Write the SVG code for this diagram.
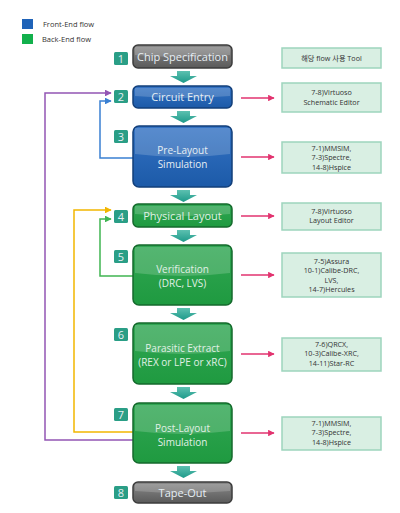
<svg xmlns="http://www.w3.org/2000/svg" width="400" height="513" viewBox="0 0 400 513">
<defs>
<style>
.nt{font-family:"Open Sans","Liberation Sans",sans-serif;font-size:11px;fill:#e6eef4;text-anchor:middle}
.bt{font-family:"Open Sans","Liberation Sans",sans-serif;font-size:11px;fill:#e0f0e6;text-anchor:middle}
.two{font-size:10px}
.tt{font-family:"Open Sans","Liberation Sans","Noto Sans CJK KR",sans-serif;font-size:7.2px;fill:#333;text-anchor:middle}
.lg{font-family:"Open Sans","Liberation Sans",sans-serif;font-size:7.5px;fill:#333}
.tool{fill:#d9efe3;stroke:#9dd5bd;stroke-width:1.5}
.badge{fill:#2a9e86}
.gray{fill:url(#gGray);stroke:#3c3c3c;stroke-width:1.5}
.blue{fill:url(#gBlue);stroke:#123f7a;stroke-width:1.5}
.green{fill:url(#gGreen);stroke:#146a2c;stroke-width:1.5}
.gloss{fill:#ffffff;opacity:0.18}
.down{fill:url(#gTeal)}
.pink{stroke:#e2336f;stroke-width:1.3;fill:none;marker-end:url(#mPink)}
.fb{fill:none;stroke-width:1.5}
</style>
<linearGradient id="gGray" x1="0" y1="0" x2="0" y2="1"><stop offset="0" stop-color="#8a8a8a"/><stop offset="1" stop-color="#5a5a5a"/></linearGradient>
<linearGradient id="gBlue" x1="0" y1="0" x2="0" y2="1"><stop offset="0" stop-color="#3473c4"/><stop offset="1" stop-color="#1c5aa8"/></linearGradient>
<linearGradient id="gGreen" x1="0" y1="0" x2="0" y2="1"><stop offset="0" stop-color="#30a653"/><stop offset="1" stop-color="#1f9a40"/></linearGradient>
<linearGradient id="gTeal" x1="0" y1="0" x2="0" y2="1"><stop offset="0" stop-color="#5cc0b0"/><stop offset="1" stop-color="#1e9a8a"/></linearGradient>
<marker id="mPink" viewBox="0 0 10 10" refX="9" refY="5" markerWidth="5" markerHeight="5" orient="auto"><path d="M0,0 L10,5 L0,10 z" fill="#e2336f"/></marker>
<marker id="mPurple" viewBox="0 0 10 10" refX="9" refY="5" markerWidth="4.5" markerHeight="4.5" orient="auto"><path d="M0,0 L10,5 L0,10 z" fill="#9356b4"/></marker>
<marker id="mBlue" viewBox="0 0 10 10" refX="9" refY="5" markerWidth="4.5" markerHeight="4.5" orient="auto"><path d="M0,0 L10,5 L0,10 z" fill="#3a80d2"/></marker>
<marker id="mYellow" viewBox="0 0 10 10" refX="9" refY="5" markerWidth="4.5" markerHeight="4.5" orient="auto"><path d="M0,0 L10,5 L0,10 z" fill="#f2b600"/></marker>
<marker id="mGreen" viewBox="0 0 10 10" refX="9" refY="5" markerWidth="4.5" markerHeight="4.5" orient="auto"><path d="M0,0 L10,5 L0,10 z" fill="#40b552"/></marker>
</defs>
<rect width="400" height="513" fill="#ffffff"/>

<g id="legend">
<rect x="22" y="19" width="11" height="10" fill="#1f63b8"/>
<text class="lg" x="43" y="26.5">Front-End flow</text>
<rect x="22" y="34" width="11" height="10" fill="#12b04c"/>
<text class="lg" x="42" y="41.5">Back-End flow</text>
</g>

<g id="connectors">
<path class="fb" stroke="#9356b4" d="M133,440 H45 V93 H111" marker-end="url(#mPurple)"/>
<path class="fb" stroke="#3a80d2" d="M133,158 H100 V101 H111" marker-end="url(#mBlue)"/>
<path class="fb" stroke="#f2b600" d="M133,432 H74 V210 H111" marker-end="url(#mYellow)"/>
<path class="fb" stroke="#40b552" d="M133,276 H100 V219 H111" marker-end="url(#mGreen)"/>
<path class="down" d="M177,71 h13 v5 h7 l-13.5,7 l-13.5,-7 h7 z"/>
<path class="down" d="M177,111 h13 v5 h7 l-13.5,7 l-13.5,-7 h7 z"/>
<path class="down" d="M177,190 h13 v5 h7 l-13.5,7 l-13.5,-7 h7 z"/>
<path class="down" d="M177,230 h13 v5 h7 l-13.5,7 l-13.5,-7 h7 z"/>
<path class="down" d="M177,308 h13 v5 h7 l-13.5,7 l-13.5,-7 h7 z"/>
<path class="down" d="M177,387 h13 v5 h7 l-13.5,7 l-13.5,-7 h7 z"/>
<path class="down" d="M177,466 h13 v5 h7 l-13.5,7 l-13.5,-7 h7 z"/>
<path class="pink" d="M241,98 H274"/>
<path class="pink" d="M241,157 H274"/>
<path class="pink" d="M241,216 H274"/>
<path class="pink" d="M241,275 H274"/>
<path class="pink" d="M241,354 H274"/>
<path class="pink" d="M241,433 H274"/>
</g>

<g id="node1">
<rect class="badge" x="114" y="52" width="14" height="13" rx="1.5"/>
<text class="nt" x="121" y="63" font-size="10">1</text>
<rect class="gray" x="133" y="45" width="99" height="23" rx="5"/>
<path class="gloss" d="M135,47 h95 v8 q-47,4 -95,0 z"/>
<text class="nt" x="182.5" y="60.5" font-size="11.5">Chip Specification</text>
</g>

<g id="node2">
<rect class="badge" x="114" y="90" width="14" height="13" rx="1.5"/>
<text class="nt" x="121" y="101" font-size="10">2</text>
<rect class="blue" x="133" y="86" width="99" height="22" rx="5"/>
<path class="gloss" d="M135,88 h95 v8 q-47,4 -95,0 z"/>
<text class="nt" x="182.5" y="101">Circuit Entry</text>
</g>

<g id="node3">
<rect class="badge" x="114" y="130" width="14" height="13" rx="1.5"/>
<text class="nt" x="121" y="141" font-size="10">3</text>
<rect class="blue" x="133" y="126" width="99" height="61" rx="6"/>
<path class="gloss" d="M135,128 h95 v26 q-47,6 -95,0 z"/>
<text class="nt two" x="182.5" y="153.5">Pre-Layout</text>
<text class="nt two" x="182.5" y="167.5">Simulation</text>
</g>

<g id="node4">
<rect class="badge" x="114" y="210" width="14" height="13" rx="1.5"/>
<text class="nt" x="121" y="221" font-size="10">4</text>
<rect class="green" x="133" y="204" width="99" height="23" rx="5"/>
<path class="gloss" d="M135,206 h95 v8 q-47,4 -95,0 z"/>
<text class="bt" x="182.5" y="219.5">Physical Layout</text>
</g>

<g id="node5">
<rect class="badge" x="114" y="250" width="14" height="13" rx="1.5"/>
<text class="nt" x="121" y="261" font-size="10">5</text>
<rect class="green" x="133" y="245" width="99" height="60" rx="6"/>
<path class="gloss" d="M135,247 h95 v26 q-47,6 -95,0 z"/>
<text class="bt two" x="182.5" y="272.5">Verification</text>
<text class="bt two" x="182.5" y="286.5">(DRC, LVS)</text>
</g>

<g id="node6">
<rect class="badge" x="114" y="328" width="14" height="13" rx="1.5"/>
<text class="nt" x="121" y="339" font-size="10">6</text>
<rect class="green" x="133" y="323" width="99" height="61" rx="6"/>
<path class="gloss" d="M135,325 h95 v26 q-47,6 -95,0 z"/>
<text class="bt two" x="182.5" y="351.5">Parasitic Extract</text>
<text class="bt two" x="182.5" y="365.5">(REX or LPE or xRC)</text>
</g>

<g id="node7">
<rect class="badge" x="114" y="408" width="14" height="13" rx="1.5"/>
<text class="nt" x="121" y="419" font-size="10">7</text>
<rect class="green" x="133" y="403" width="99" height="60" rx="6"/>
<path class="gloss" d="M135,405 h95 v26 q-47,6 -95,0 z"/>
<text class="bt two" x="182.5" y="431.5">Post-Layout</text>
<text class="bt two" x="182.5" y="445.5">Simulation</text>
</g>

<g id="node8">
<rect class="badge" x="114" y="486" width="14" height="13" rx="1.5"/>
<text class="nt" x="121" y="497" font-size="10">8</text>
<rect class="gray" x="133" y="482" width="99" height="21" rx="5"/>
<path class="gloss" d="M135,484 h95 v7 q-47,4 -95,0 z"/>
<text class="nt" x="182.5" y="496.5">Tape-Out</text>
</g>

<g id="toolHeader">
<rect class="tool" x="282" y="48" width="99" height="20"/>
<text class="tt" x="331.5" y="60.5">해당 flow 사용 Tool</text>
</g>
<g id="tool2">
<rect class="tool" x="282" y="83" width="99" height="29"/>
<text class="tt" x="331.5" y="95">7-8)Virtuoso</text>
<text class="tt" x="331.5" y="104.5">Schematic Editor</text>
</g>
<g id="tool3">
<rect class="tool" x="282" y="142" width="99" height="31"/>
<text class="tt" x="331.5" y="150.5">7-1)MMSIM,</text>
<text class="tt" x="331.5" y="160">7-3)Spectre,</text>
<text class="tt" x="331.5" y="169.5">14-8)Hspice</text>
</g>
<g id="tool4">
<rect class="tool" x="282" y="203" width="99" height="27"/>
<text class="tt" x="331.5" y="213.5">7-8)Virtuoso</text>
<text class="tt" x="331.5" y="223">Layout Editor</text>
</g>
<g id="tool5">
<rect class="tool" x="282" y="253" width="99" height="44"/>
<text class="tt" x="331.5" y="263.5">7-5)Assura</text>
<text class="tt" x="331.5" y="273">10-1)Calibe-DRC,</text>
<text class="tt" x="331.5" y="282.5">LVS,</text>
<text class="tt" x="331.5" y="292">14-7)Hercules</text>
</g>
<g id="tool6">
<rect class="tool" x="282" y="338" width="99" height="33"/>
<text class="tt" x="331.5" y="346.5">7-6)QRCX,</text>
<text class="tt" x="331.5" y="356">10-3)Calibe-XRC,</text>
<text class="tt" x="331.5" y="365.5">14-11)Star-RC</text>
</g>
<g id="tool7">
<rect class="tool" x="282" y="417" width="99" height="33"/>
<text class="tt" x="331.5" y="425.5">7-1)MMSIM,</text>
<text class="tt" x="331.5" y="435">7-3)Spectre,</text>
<text class="tt" x="331.5" y="444.5">14-8)Hspice</text>
</g>
</svg>
